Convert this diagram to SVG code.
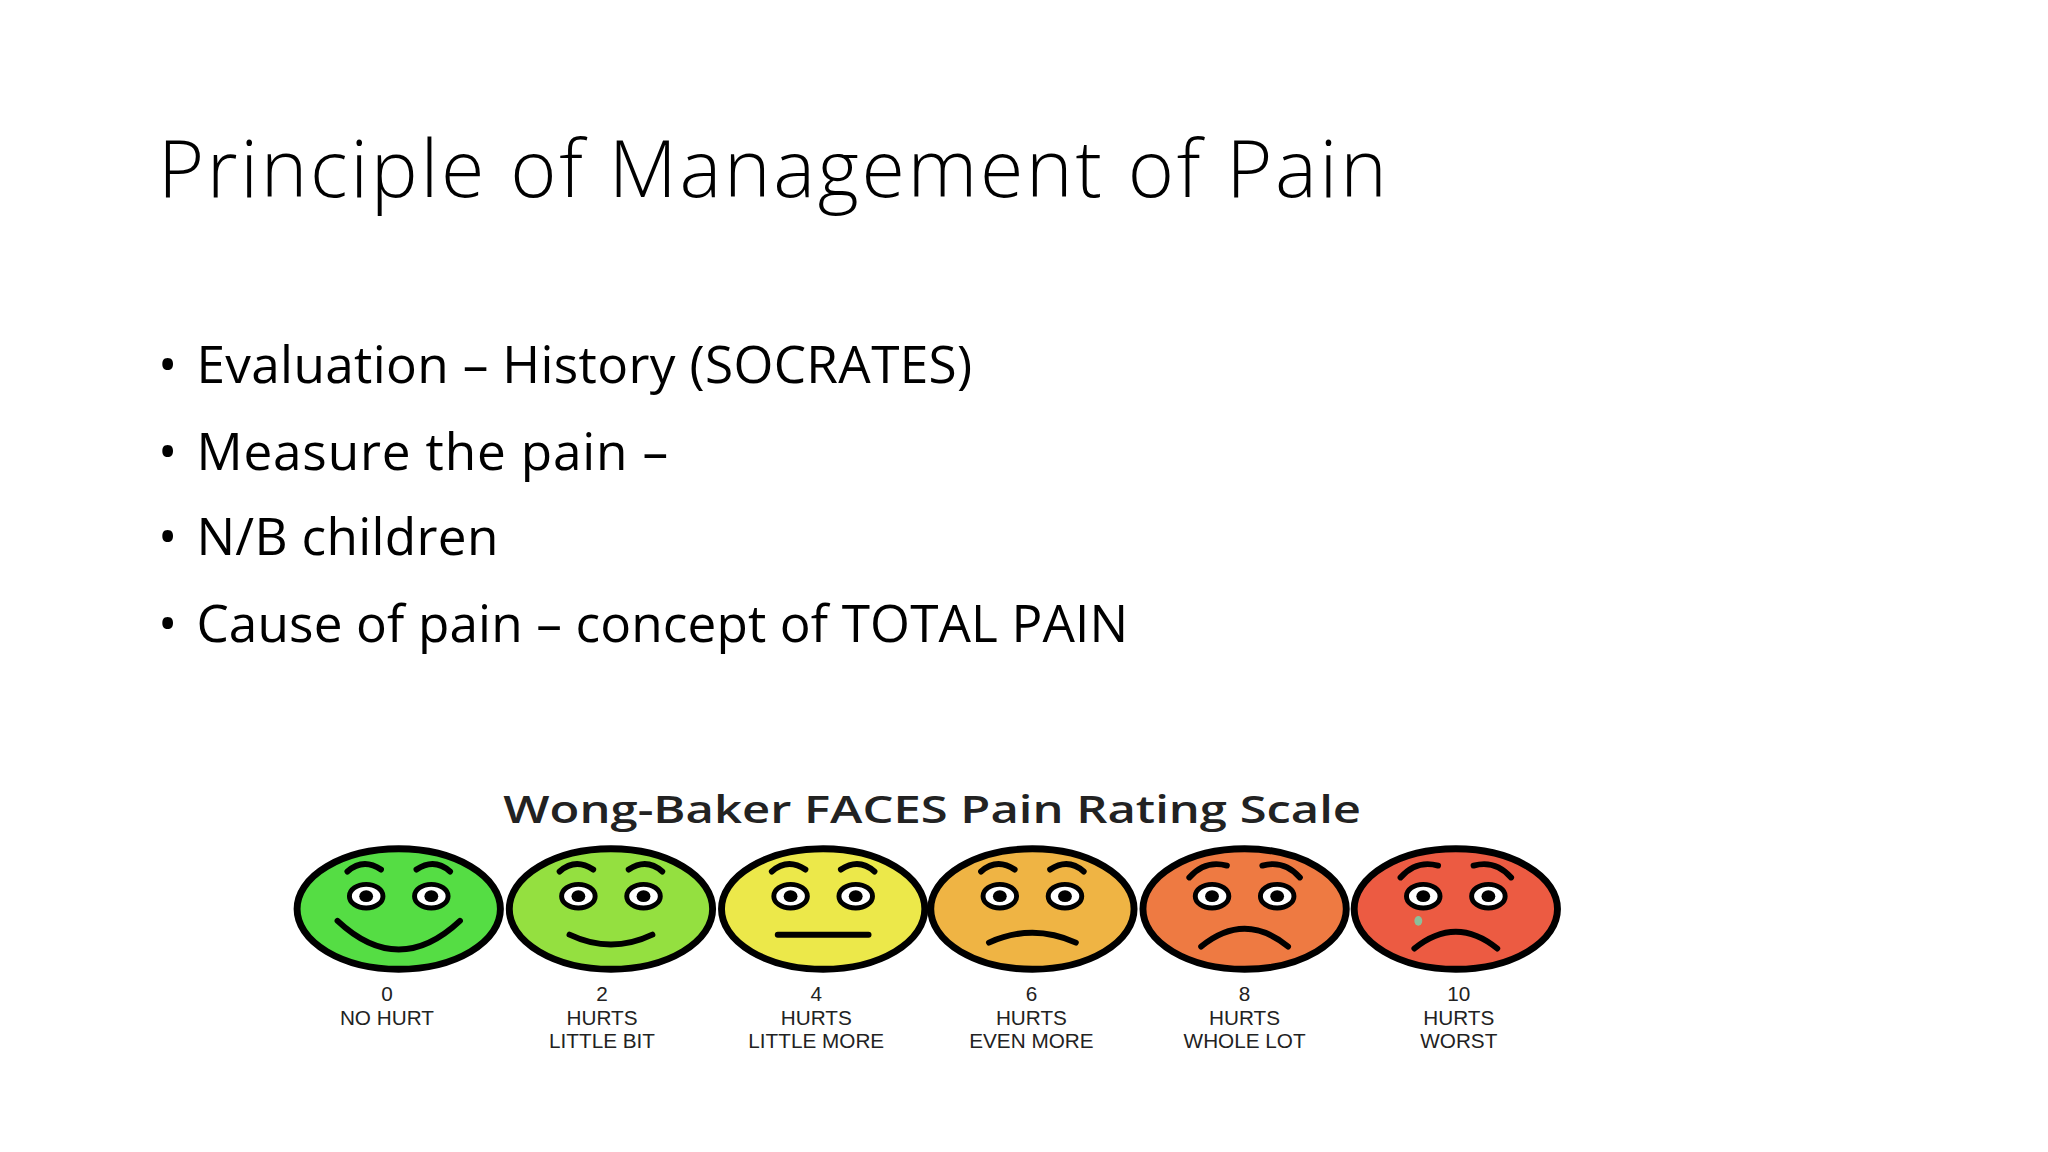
<svg xmlns="http://www.w3.org/2000/svg" width="2048" height="1152" viewBox="0 0 2048 1152">
<style>
.t{font-family:"Open Sans","Liberation Sans",sans-serif;fill:#000}
.b{font-family:"Open Sans","Liberation Sans",sans-serif;font-size:52px;fill:#000}
.lb{font-family:"Liberation Sans",sans-serif;font-size:21px;fill:#222;text-anchor:middle}
.face{stroke:#000;stroke-width:7}
.eye{fill:#fff;stroke:#000;stroke-width:5}
.ln{fill:none;stroke:#000;stroke-width:6;stroke-linecap:round}
</style>
<defs>
<g id="eyes">
<ellipse class="eye" cx="-33" cy="-13" rx="17" ry="12"/><ellipse cx="-33" cy="-13" rx="7" ry="6"/>
<ellipse class="eye" cx="33" cy="-13" rx="17" ry="12"/><ellipse cx="33" cy="-13" rx="7" ry="6"/>
</g>
<g id="brows">
<path class="ln" d="M-52,-38 Q-36,-52 -18,-40"/><path class="ln" d="M18,-40 Q36,-52 52,-38"/>
</g>
<g id="sadbrows">
<path class="ln" d="M-56,-32 Q-40,-50 -18,-44"/><path class="ln" d="M18,-44 Q40,-50 56,-32"/>
</g>
</defs>
<rect width="2048" height="1152" fill="#fff"/>
<g transform="scale(0.987)">
<text class="t" x="160" y="200" font-size="80" font-weight="300" textLength="1245">Principle of Management of Pain</text>
<g id="bullets">
<text class="b" x="160" y="388">•</text><text class="b" x="199" y="388" textLength="786">Evaluation – History (SOCRATES)</text>
<text class="b" x="160" y="476">•</text><text class="b" x="199" y="476" textLength="478">Measure the pain –</text>
<text class="b" x="160" y="562">•</text><text class="b" x="199" y="562" textLength="306">N/B children</text>
<text class="b" x="160" y="650">•</text><text class="b" x="199" y="650" textLength="944">Cause of pain – concept of TOTAL PAIN</text>
</g>
<text x="510" y="834" font-family="Open Sans,Liberation Sans,sans-serif" font-size="38" font-weight="600" fill="#222" textLength="869" lengthAdjust="spacingAndGlyphs">Wong-Baker FACES Pain Rating Scale</text>
<g id="face0" transform="translate(404,921)">
<ellipse class="face" rx="103" ry="61" fill="#55dd44"/><use href="#brows"/><use href="#eyes"/>
<path class="ln" d="M-62,12 Q0,70 62,12"/>
</g>
<g id="face2" transform="translate(619,921)">
<ellipse class="face" rx="103" ry="61" fill="#94e040"/><use href="#brows"/><use href="#eyes"/>
<path class="ln" d="M-42,26 Q0,46 42,26"/>
</g>
<g id="face4" transform="translate(834,921)">
<ellipse class="face" rx="103" ry="61" fill="#ece84a"/><use href="#brows"/><use href="#eyes"/>
<path class="ln" d="M-46,26 L46,26"/>
</g>
<g id="face6" transform="translate(1046,921)">
<ellipse class="face" rx="103" ry="61" fill="#efb444"/><use href="#brows"/><use href="#eyes"/>
<path class="ln" d="M-44,34 Q0,14 44,34"/>
</g>
<g id="face8" transform="translate(1261,921)">
<ellipse class="face" rx="103" ry="61" fill="#ee7a42"/><use href="#sadbrows"/><use href="#eyes"/>
<path class="ln" d="M-44,38 Q0,2 44,38"/>
</g>
<g id="face10" transform="translate(1475,921)">
<ellipse class="face" rx="103" ry="61" fill="#ec5b42"/><use href="#sadbrows"/><use href="#eyes"/>
<ellipse cx="-38" cy="12" rx="4" ry="5" fill="#8bbf9a"/>
<path class="ln" d="M-42,40 Q0,6 42,40"/>
</g>
<g id="labels">
<text class="lb" x="392" y="1014">0</text><text class="lb" x="392" y="1038">NO HURT</text>
<text class="lb" x="610" y="1014">2</text><text class="lb" x="610" y="1038">HURTS</text><text class="lb" x="610" y="1062">LITTLE BIT</text>
<text class="lb" x="827" y="1014">4</text><text class="lb" x="827" y="1038">HURTS</text><text class="lb" x="827" y="1062">LITTLE MORE</text>
<text class="lb" x="1045" y="1014">6</text><text class="lb" x="1045" y="1038">HURTS</text><text class="lb" x="1045" y="1062">EVEN MORE</text>
<text class="lb" x="1261" y="1014">8</text><text class="lb" x="1261" y="1038">HURTS</text><text class="lb" x="1261" y="1062">WHOLE LOT</text>
<text class="lb" x="1478" y="1014">10</text><text class="lb" x="1478" y="1038">HURTS</text><text class="lb" x="1478" y="1062">WORST</text>
</g>
</g>
</svg>
